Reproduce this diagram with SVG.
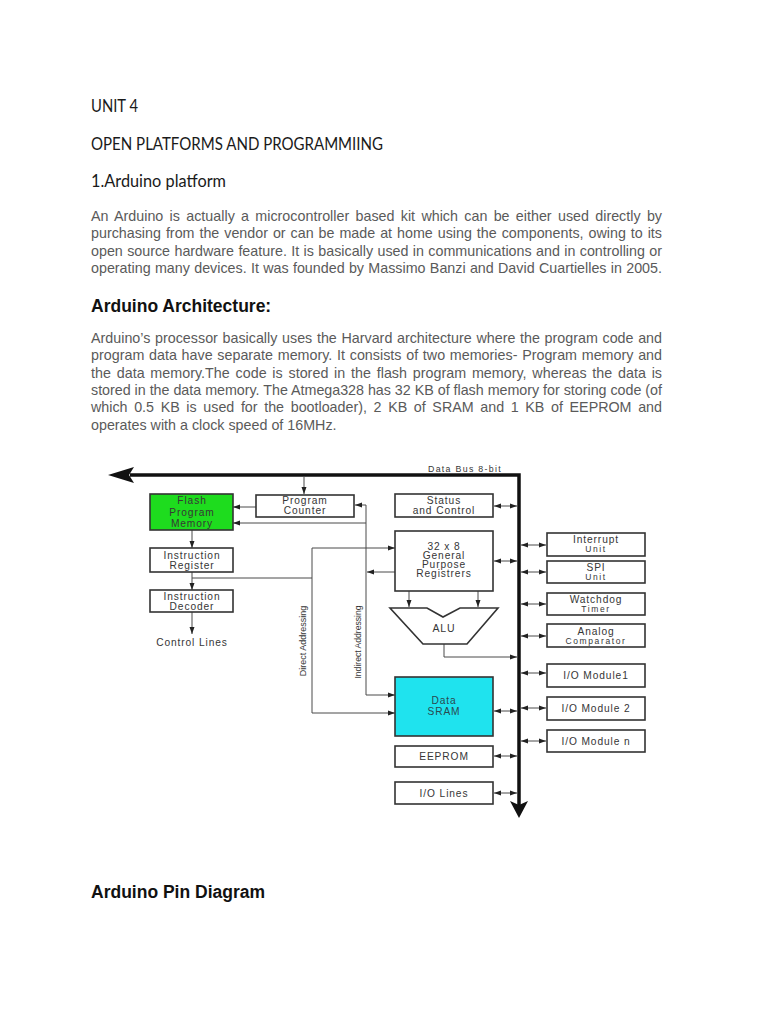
<svg xmlns="http://www.w3.org/2000/svg" width="768" height="1024" viewBox="0 0 768 1024">
<defs>
<style>
.h{font-family:Lato,"Open Sans","Liberation Sans",sans-serif;font-size:16.5px;fill:#1a1a1a}
.p{font-family:"Liberation Sans",Arial,sans-serif;font-size:14.3px;fill:#5a5a5a}
.hb{font-family:"Liberation Sans",Arial,sans-serif;font-size:17.5px;font-weight:bold;fill:#111}
.box{fill:#fff;stroke:#333;stroke-width:1.6}
.t{font-family:"Liberation Sans",Arial,sans-serif;font-size:10.2px;letter-spacing:0.9px;fill:#363636;text-anchor:middle}
.ts{font-family:"Liberation Sans",Arial,sans-serif;font-size:8.5px;letter-spacing:1.6px;fill:#363636;text-anchor:middle}
.tr{font-family:"Liberation Sans",Arial,sans-serif;font-size:9px;fill:#363636;text-anchor:middle}
.ln{fill:none;stroke:#4a4a4a;stroke-width:1}
.a{marker-end:url(#ah)}
.d{marker-end:url(#ah);marker-start:url(#ah)}
</style>
<marker id="ah" markerUnits="userSpaceOnUse" markerWidth="7" markerHeight="6" refX="7" refY="3" orient="auto-start-reverse">
<path d="M0,0.5 L7,3 L0,5.5 z" fill="#222"/>
</marker>
</defs>
<rect width="768" height="1024" fill="#fff"/>

<g id="text">
<text class="h" x="91" y="112" textLength="47" lengthAdjust="spacingAndGlyphs">UNIT 4</text>
<text class="h" x="91" y="150" textLength="292" lengthAdjust="spacingAndGlyphs">OPEN PLATFORMS AND PROGRAMMIING</text>
<text class="h" x="91" y="187" textLength="135" lengthAdjust="spacingAndGlyphs">1.Arduino platform</text>
<text class="p" x="91" y="221" word-spacing="2.3" textLength="571" lengthAdjust="spacing">An Arduino is actually a microcontroller based kit which can be either used directly by</text>
<text class="p" x="91" y="238.3" word-spacing="0.97" textLength="571" lengthAdjust="spacing">purchasing from the vendor or can be made at home using the components, owing to its</text>
<text class="p" x="91" y="255.6" word-spacing="0.4" textLength="571" lengthAdjust="spacing">open source hardware feature. It is basically used in communications and in controlling or</text>
<text class="p" x="91" y="273" word-spacing="0.3" textLength="571" lengthAdjust="spacing">operating many devices. It was founded by Massimo Banzi and David Cuartielles in 2005.</text>
<text class="hb" x="91" y="312">Arduino Architecture:</text>
<text class="p" x="91" y="343" word-spacing="0.68" textLength="571" lengthAdjust="spacing">Arduino’s processor basically uses the Harvard architecture where the program code and</text>
<text class="p" x="91" y="360.3" word-spacing="0.7" textLength="571" lengthAdjust="spacing">program data have separate memory. It consists of two memories- Program memory and</text>
<text class="p" x="91" y="377.6" word-spacing="1.73" textLength="571" lengthAdjust="spacing">the data memory.The code is stored in the flash program memory, whereas the data is</text>
<text class="p" x="91" y="395" textLength="571" lengthAdjust="spacing">stored in the data memory. The Atmega328 has 32 KB of flash memory for storing code (of</text>
<text class="p" x="91" y="412.2" word-spacing="2.65" textLength="571" lengthAdjust="spacing">which 0.5 KB is used for the bootloader), 2 KB of SRAM and 1 KB of EEPROM and</text>
<text class="p" x="91" y="429.5">operates with a clock speed of 16MHz.</text>
<text class="hb" x="91" y="898">Arduino Pin Diagram</text>
</g>

<g id="connectors">
<!-- data bus -->
<path d="M130,475 H519 V806" fill="none" stroke="#111" stroke-width="3.5"/>
<path d="M108,475 L134,467 L129,475 L134,483 z" fill="#111"/>
<path d="M519,818 L510,801 L519,805 L528,801 z" fill="#111"/>
<text class="ts" x="465" y="472" style="font-size:8.8px;letter-spacing:1.3px">Data Bus 8-bit</text>
<!-- bus to program counter -->
<line class="ln a" x1="304" y1="477" x2="304" y2="494"/>
<!-- PC to flash -->
<line class="ln a" x1="256" y1="507" x2="233" y2="507"/>
<!-- indirect addressing -->
<line class="ln a" x1="395" y1="572" x2="367" y2="572"/>
<polyline class="ln a" points="366,505 366,695 395,695"/>
<line class="ln a" x1="366" y1="505" x2="355" y2="505"/>
<line class="ln a" x1="366" y1="523" x2="233" y2="523"/>
<!-- direct addressing -->
<polyline class="ln" points="192,578 312,578"/>
<polyline class="ln a" points="312,548 312,713 395,713"/>
<line class="ln a" x1="312" y1="548" x2="395" y2="548"/>
<!-- left column -->
<line class="ln a" x1="192" y1="530" x2="192" y2="548"/>
<line class="ln a" x1="192" y1="572" x2="192" y2="590"/>
<line class="ln a" x1="192" y1="612" x2="192" y2="634"/>
<!-- GPR to ALU -->
<line class="ln a" x1="409" y1="591" x2="409" y2="607"/>
<line class="ln a" x1="478" y1="591" x2="478" y2="607"/>
<!-- ALU to bus -->
<polyline class="ln a" points="444,644 444,657 517,657"/>
<!-- bus double arrows left -->
<line class="ln d" x1="494" y1="506" x2="517" y2="506"/>
<line class="ln d" x1="494" y1="561" x2="517" y2="561"/>
<line class="ln d" x1="494" y1="711" x2="517" y2="711"/>
<line class="ln d" x1="494" y1="756" x2="517" y2="756"/>
<line class="ln d" x1="494" y1="793" x2="517" y2="793"/>
<!-- bus double arrows right -->
<line class="ln d" x1="521" y1="545" x2="546" y2="545"/>
<line class="ln d" x1="521" y1="572" x2="546" y2="572"/>
<line class="ln d" x1="521" y1="604" x2="546" y2="604"/>
<line class="ln d" x1="521" y1="636" x2="546" y2="636"/>
<line class="ln d" x1="521" y1="673" x2="546" y2="673"/>
<line class="ln d" x1="521" y1="708" x2="546" y2="708"/>
<line class="ln d" x1="521" y1="741" x2="546" y2="741"/>
<text class="tr" transform="translate(306,641) rotate(-90)">Direct Addressing</text>
<text class="tr" transform="translate(361,642) rotate(-90)" style="font-size:8.6px">Indirect Addressing</text>
</g>

<g id="flash">
<rect x="150" y="494" width="83" height="36" fill="#1edc1e" stroke="#333" stroke-width="1.6"/>
<text class="t" x="192" y="504">Flash</text>
<text class="t" x="192" y="515.5">Program</text>
<text class="t" x="192" y="527">Memory</text>
</g>
<g id="pc">
<rect class="box" x="256" y="495" width="98" height="22"/>
<text class="t" x="305" y="504">Program</text>
<text class="t" x="305" y="514">Counter</text>
</g>
<g id="ir">
<rect class="box" x="150" y="548" width="83" height="24"/>
<text class="t" x="192" y="558.5">Instruction</text>
<text class="t" x="192" y="569">Register</text>
</g>
<g id="id">
<rect class="box" x="150" y="590" width="83" height="22"/>
<text class="t" x="192" y="600">Instruction</text>
<text class="t" x="192" y="610">Decoder</text>
</g>
<g id="control-lines">
<text class="t" x="192" y="646">Control Lines</text>
</g>
<g id="status">
<rect class="box" x="395" y="494" width="98" height="23"/>
<text class="t" x="444" y="504">Status</text>
<text class="t" x="444" y="514">and Control</text>
</g>
<g id="gpr">
<rect class="box" x="395" y="531" width="98" height="60"/>
<text class="t" x="444" y="549.5">32 x 8</text>
<text class="t" x="444" y="558.5">General</text>
<text class="t" x="444" y="567.5">Purpose</text>
<text class="t" x="444" y="576.5">Registrers</text>
</g>
<g id="alu">
<polygon points="390,608 427,608 443,617 460,608 498,608 467,644 423,644" fill="#fff" stroke="#333" stroke-width="1.6"/>
<text class="t" x="444" y="632" style="font-size:10.5px">ALU</text>
</g>
<g id="sram">
<rect x="395" y="677" width="98" height="59" fill="#1fe3ee" stroke="#333" stroke-width="1.6"/>
<text class="t" x="444" y="704" style="fill:#2a4a50">Data</text>
<text class="t" x="444" y="715" style="fill:#2a4a50">SRAM</text>
</g>
<g id="eeprom">
<rect class="box" x="395" y="746" width="98" height="21"/>
<text class="t" x="444" y="760">EEPROM</text>
</g>
<g id="io-lines">
<rect class="box" x="395" y="782" width="98" height="22"/>
<text class="t" x="444" y="797">I/O Lines</text>
</g>
<g id="interrupt">
<rect class="box" x="547" y="533" width="98" height="23"/>
<text class="t" x="596" y="543">Interrupt</text>
<text class="ts" x="596" y="552">Unit</text>
</g>
<g id="spi">
<rect class="box" x="547" y="561" width="98" height="22"/>
<text class="t" x="596" y="570.5">SPI</text>
<text class="ts" x="596" y="580">Unit</text>
</g>
<g id="watchdog">
<rect class="box" x="547" y="593" width="98" height="22"/>
<text class="t" x="596" y="603">Watchdog</text>
<text class="ts" x="596" y="612">Timer</text>
</g>
<g id="analog">
<rect class="box" x="547" y="624" width="98" height="23"/>
<text class="t" x="596" y="634.5">Analog</text>
<text class="ts" x="596" y="643.5">Comparator</text>
</g>
<g id="io1">
<rect class="box" x="547" y="664" width="98" height="23"/>
<text class="t" x="596" y="679">I/O Module1</text>
</g>
<g id="io2">
<rect class="box" x="547" y="697" width="98" height="23"/>
<text class="t" x="596" y="712">I/O Module 2</text>
</g>
<g id="ion">
<rect class="box" x="547" y="730" width="98" height="22"/>
<text class="t" x="596" y="745">I/O Module n</text>
</g>
</svg>
